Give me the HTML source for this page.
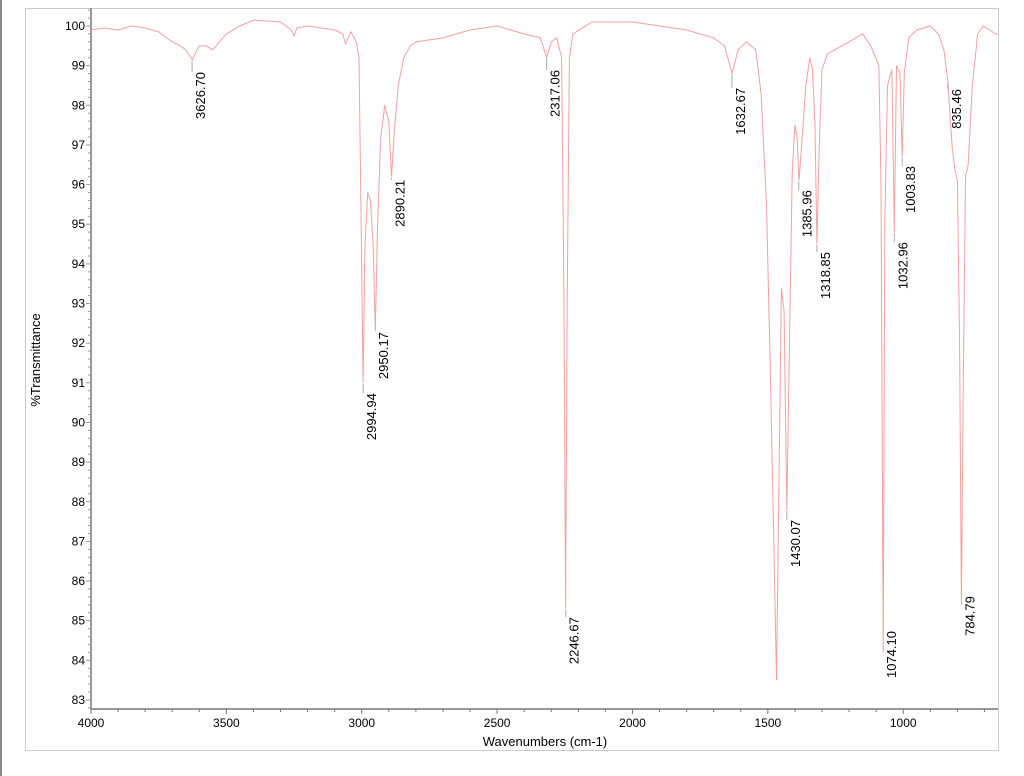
<!DOCTYPE html>
<html><head><meta charset="utf-8"><style>
body{margin:0;background:#fff;font-family:"Liberation Sans",sans-serif}
svg{display:block}
</style></head><body>
<svg id="chart" width="1024" height="776" viewBox="0 0 1024 776" font-family="Liberation Sans, sans-serif">
<rect x="0" y="0" width="2" height="776" fill="#888"/>
<rect x="25.5" y="8.5" width="973" height="742" fill="#fff" stroke="#ccc"/>
<g id="axes"></g>
<g id="series"></g>
<g id="labels"></g>
<text x="40" y="360" transform="rotate(-90 40 360)" text-anchor="middle" font-size="13">%Transmittance</text>
<text x="545" y="746" text-anchor="middle" font-size="13">Wavenumbers (cm-1)</text>
</svg>
<script>
const wavenumbers=[4000,3950,3900,3850,3800,3750,3700,3670,3650,3626,3600,3575,3550,3520,3500,3450,3400,3300,3260,3250,3240,3200,3100,3070,3060,3040,3020,3010,3003,2995,2988,2978,2968,2958,2950,2942,2930,2915,2900,2890,2880,2865,2845,2820,2800,2700,2600,2500,2400,2340,2317,2300,2280,2262,2253,2247,2241,2233,2220,2150,2000,1900,1800,1700,1660,1632,1610,1580,1545,1525,1505,1490,1478,1468,1460,1450,1440,1430,1420,1410,1400,1392,1385,1375,1360,1345,1335,1326,1319,1310,1300,1280,1200,1150,1120,1090,1082,1074,1068,1058,1042,1033,1025,1012,1004,996,980,950,900,870,850,835,820,810,800,792,785,778,770,760,745,725,705,680,660,650];
const transmittance=[99.9,99.95,99.9,100,99.95,99.85,99.6,99.5,99.4,99.15,99.5,99.5,99.4,99.65,99.8,100,100.15,100.1,99.9,99.75,99.95,100,99.9,99.8,99.55,99.85,99.6,99.2,95.5,91,94.5,95.8,95.6,94.5,92.3,94.8,97.2,98,97.6,96.2,97.3,98.5,99.2,99.5,99.6,99.7,99.9,100,99.8,99.7,99.2,99.6,99.7,99.2,93,85.3,93,99.2,99.8,100.1,100.1,100,99.9,99.7,99.5,98.8,99.4,99.6,99.4,98.3,95.5,91,87,83.5,88,93.4,92.8,87.8,92,96.3,97.5,97.2,96.1,97,98.5,99.2,98.9,97.5,94.5,97,98.9,99.3,99.6,99.8,99.5,99.0,96,84.2,95,98.5,98.9,94.8,99,98.8,96.7,98.8,99.7,99.9,100,99.8,99.4,98.6,97,96.4,96.1,92,85.4,91,96.2,96.5,98.5,99.8,100,99.9,99.8,99.8];
const peakWavenumbers=[3626.70,2994.94,2950.17,2890.21,2317.06,2246.67,1632.67,1430.07,1385.96,1318.85,1074.10,1032.96,1003.83,835.46,784.79];
const peakValues=[99.15,91,92.3,96.2,99.2,85.3,98.8,87.8,96.1,94.5,84.2,94.8,96.7,98.6,85.4];
const labelTopValues=[98.84,90.74,92.28,96.12,98.89,85.09,98.44,87.54,95.86,94.3,84.74,94.55,96.47,98.41,85.62];
const xTicks=[4000,3500,3000,2500,2000,1500,1000];
const yTicks=[83,84,85,86,87,88,89,90,91,92,93,94,95,96,97,98,99,100];

const L=91,R=998,T=8,B=709;
const X=w=>L+(4000-w)*(R-L)/(4000-650);
const Y=v=>26+(100-v)*(700-26)/17;
const NS="http://www.w3.org/2000/svg";
function mk(tag,attrs,parent){const e=document.createElementNS(NS,tag);for(const k in attrs)e.setAttribute(k,attrs[k]);parent.appendChild(e);return e;}
const axes=document.getElementById('axes'),series=document.getElementById('series'),labels=document.getElementById('labels');

let yAxis=mk('line',{x1:L,y1:T,x2:L,y2:B,stroke:'#777','stroke-width':1.5},axes);


let xAxis=mk('line',{x1:L,y1:B,x2:R,y2:B,stroke:'#777','stroke-width':1.5},axes);


for(let w=4000;w>=700;w-=100){
  const major=w%500===0;
  let t=mk('line',{x1:X(w),y1:B,x2:X(w),y2:B+(major?5:3),stroke:'#777'},axes);
  
  
}
xTicks.forEach(w=>{
  let t=mk('text',{x:X(w),y:B+18,'text-anchor':'middle','font-size':12},axes);t.textContent=w;
  
  
});
for(let v=82.8;v<=100.45;v+=0.2){
  const major=Math.abs(v-Math.round(v))<0.01;
  let t=mk('line',{x1:L-(major?5:3),y1:Y(v),x2:L,y2:Y(v),stroke:'#999'},axes);
  
  
}
yTicks.forEach(v=>{
  let t=mk('text',{x:L-6,y:Y(v)+4,'text-anchor':'end','font-size':12},axes);t.textContent=v;
  
  
});

let d=wavenumbers.map((w,i)=>(i?'L':'M')+X(w).toFixed(1)+','+Y(transmittance[i]).toFixed(1)).join('');
let line=mk('path',{d:d,fill:'none',stroke:'#f4a0a0','stroke-width':1},series);



peakWavenumbers.forEach((w,i)=>{
  const x=X(w),y=Y(peakValues[i]),ly=Y(labelTopValues[i]);
  let tk=mk('line',{x1:x,y1:Math.min(y+1,ly),x2:x,y2:ly,stroke:'#aaa'},labels);
  
  
  const tx=x+13,ty=ly;
  let t=mk('text',{x:tx,y:ty,transform:`rotate(-90 ${tx} ${ty})`,'text-anchor':'end','font-size':13},labels);
  t.textContent=w.toFixed(2);
  
  
});
</script>
</body></html>
